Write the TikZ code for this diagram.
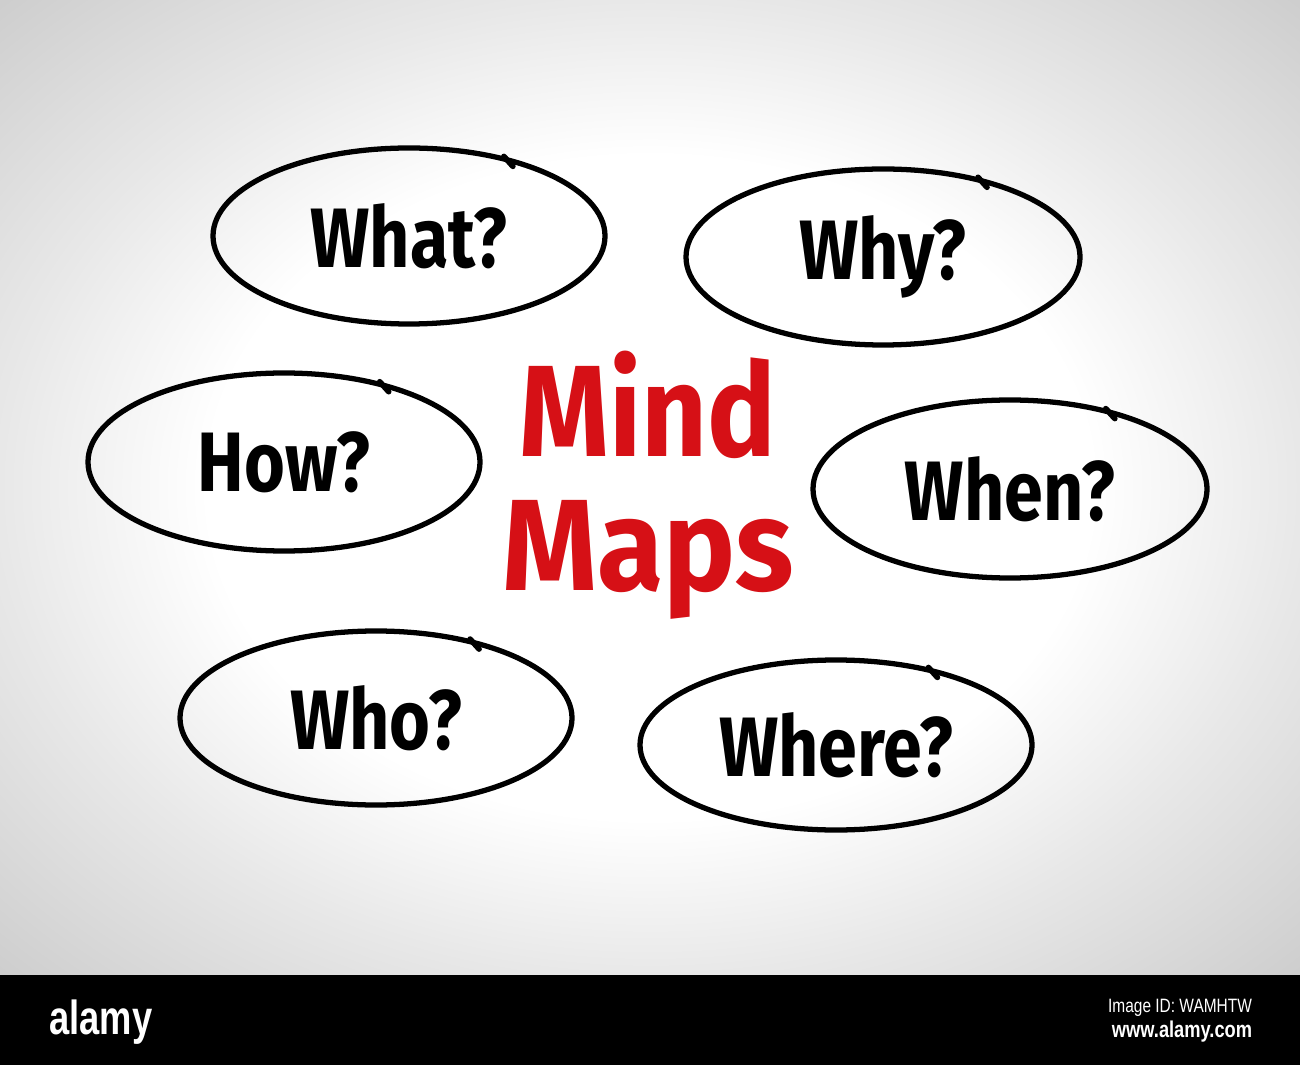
\documentclass[tikz,border=0pt]{standalone}
\usepackage{fontspec}
\setmainfont{Fira Sans}
\newfontfamily\logofont{Liberation Sans}
\usepackage{tikz}
\usetikzlibrary{shapes.geometric}
\usetikzlibrary{positioning}
\usepackage{xcolor}
\definecolor{mindred}{RGB}{214,16,22}
\pgfdeclareradialshading{vignette}{\pgfpoint{0cm}{0cm}}{color(0bp)=(white); color(17bp)=(white); color(25bp)=(black!9); color(36bp)=(black!20); color(50bp)=(black!20)}
\newcommand{\narrow}[2][0.83]{\scalebox{#1}[1]{#2}}

\begin{document}
\begin{tikzpicture}[
  bubble/.style={draw, ellipse, line width=1.5pt, minimum width=3.92cm, minimum height=1.76cm, inner sep=0pt, font=\fontsize{24}{28}\selectfont\bfseries},
  hook/.style={line width=1.6pt, line cap=round},
  title/.style={text=mindred, anchor=base, inner sep=0pt, font=\fontsize{37}{40}\selectfont\bfseries},
  logo/.style={text=white, inner sep=0pt}]
\useasboundingbox (0,0) rectangle (13,10.65);
\shade[shading=vignette] (0,0.9) rectangle (13,10.65);
\fill[black] (0,0) rectangle (13,0.9);
% the six questions
\node[bubble] (what) at (4.09,8.29) {\narrow{What?}};
\node[bubble, minimum width=3.94cm] (why) at (8.83,8.08) {\narrow{Why?}};
\node[bubble, minimum height=1.78cm] (how) at (2.84,6.03) {\narrow{How?}};
\node[bubble, minimum width=3.94cm, minimum height=1.78cm] (when) at (10.10,5.76) {\narrow{When?}};
\node[bubble, minimum height=1.74cm] (who) at (3.76,3.47) {\narrow{Who?}};
\node[bubble, minimum height=1.70cm] (where) at (8.36,3.20) {\narrow{Where?}};
% pen ends
\foreach \q in {what,why,how,when,who,where}
  \draw[hook] (\q.40) -- ++(0.09,-0.1);
% centre
\node[title] (mind) at (6.48,6.08) {\narrow[0.88]{Mind}};
\node[title] (maps) at (6.48,4.75) {\narrow[0.93]{Maps}};
% bottom strip
\node[logo, font=\logofont\fontsize{13.6}{14}\selectfont\bfseries] (alamy) at (1.01,0.43) {\narrow[0.76]{alamy}};
\node[logo, font=\logofont\fontsize{5.5}{6}\selectfont] (imgid) at (11.80,0.57) {\narrow[0.8]{Image ID: WAMHTW}};
\node[logo, font=\logofont\fontsize{6.5}{7}\selectfont\bfseries] (www) at (11.82,0.33) {\narrow[0.8]{www.alamy.com}};
\end{tikzpicture}
\end{document}
